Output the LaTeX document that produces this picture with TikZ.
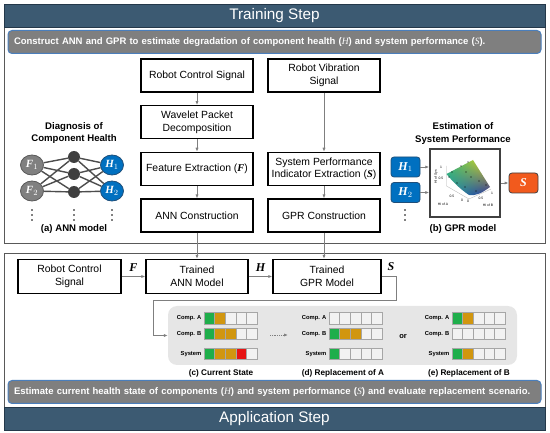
\documentclass[tikz,border=0pt]{standalone}
\usepackage{fontspec}
\setmainfont{Liberation Sans}
\newfontfamily\varfont{Liberation Serif}
\usetikzlibrary{positioning,shapes.geometric,arrows.meta,shadings}

\definecolor{barblue}{HTML}{3C5A72}
\definecolor{barline}{HTML}{24384A}
\definecolor{notegray}{HTML}{7F7F7F}
\definecolor{noteline}{HTML}{4A7EBB}
\definecolor{arrowgray}{HTML}{7F7F7F}
\definecolor{framegray}{HTML}{595959}
\definecolor{neurongray}{HTML}{808080}
\definecolor{neuronline}{HTML}{595959}
\definecolor{hiddengray}{HTML}{3F3F3F}
\definecolor{linkgray}{HTML}{4D4D4D}
\definecolor{hblue}{HTML}{0070C0}
\definecolor{hblueline}{HTML}{1F4E79}
\definecolor{sred}{HTML}{F25A1D}
\definecolor{sline}{HTML}{404040}
\definecolor{plotline}{HTML}{404040}
\definecolor{panelgray}{HTML}{E6E6E6}
\definecolor{cg}{HTML}{1FAE4B}
\definecolor{co}{HTML}{D1960F}
\definecolor{cr}{HTML}{E61414}
\definecolor{ce}{HTML}{F2F2F2}
\definecolor{cellline}{HTML}{A6A6A6}
\definecolor{surfyellow}{HTML}{E6D21E}
\definecolor{surfgreen}{HTML}{3DBA6E}
\definecolor{surfteal}{HTML}{1C9AA8}
\definecolor{surfblue}{HTML}{2B2F9E}
\definecolor{axisgray}{HTML}{B0B0B0}

\newcommand{\ivar}[1]{{\varfont\mdseries\itshape #1}}
\newcommand{\bvar}[1]{{\varfont\bfseries\itshape #1}}

% one row of health cells: name, x, y, label, fills
\newcommand{\healthrow}[5]{%
  \node (#1) [rowlabel] at (#2-2.5,#3) {#4};
  \foreach \hc [count=\i from 0] in {#5}
    \draw [cell,fill=\hc] (#2+\i*10.6,#3-5.8) rectangle ++(10.6,11.6);
}

\begin{document}
\begin{tikzpicture}[x=1pt,y=-1pt,>={Latex[length=4pt,width=3.2pt]},
    node distance=46.7pt,
    stepbar/.style={draw=barline,fill=barblue,text=white,line width=0.8pt,
      minimum width=541pt,minimum height=23pt,inner sep=0pt,
      font=\fontsize{15.3}{18}\selectfont},
    notebox/.style={draw=noteline,fill=notegray,text=white,line width=1pt,
      rounded corners=4pt,minimum width=533pt,minimum height=23pt,
      text width=525pt,align=left,inner xsep=4pt,
      font=\bfseries\fontsize{9.5}{11}\selectfont},
    block/.style={draw,line width=1.3pt,minimum width=112pt,minimum height=33pt,
      align=center,inner sep=1pt,font=\fontsize{10.4}{12.6}\selectfont},
    flow/.style={draw=arrowgray,line width=0.8pt,->},
    title/.style={align=center,inner sep=0.5pt,font=\bfseries\fontsize{9.6}{12.8}\selectfont},
    caption/.style={font=\bfseries\fontsize{8.2}{10}\selectfont},
    neuron/.style={ellipse,draw=neuronline,fill=neurongray,line width=0.8pt,
      minimum width=23pt,minimum height=20pt,inner sep=0pt,text=white,
      font=\fontsize{11}{12}\selectfont},
    hidden/.style={circle,fill=hiddengray,minimum size=12pt,inner sep=0pt},
    outneuron/.style={neuron,draw=hblueline,fill=hblue},
    tag/.style={draw=hblueline,fill=hblue,rounded corners=3pt,line width=0.8pt,
      minimum width=29pt,minimum height=20pt,inner sep=0pt,text=white,
      font=\fontsize{12}{13}\selectfont},
    link/.style={draw=linkgray,line width=1.4pt},
    lbl/.style={font=\fontsize{12}{13}\selectfont},
    rowlabel/.style={anchor=east,inner sep=0pt,font=\bfseries\fontsize{5.8}{7}\selectfont},
    cell/.style={draw=cellline,line width=0.6pt},
    tiny/.style={inner sep=0pt,font=\fontsize{3.4}{4}\selectfont},
    frame/.style={draw=framegray,line width=0.8pt}]

  \useasboundingbox (0,0) rectangle (550,433);

  % frames and step bars
  \draw [frame] (4,4) rectangle (545,243);
  \draw [frame] (4,253) rectangle (545,430);
  \node (train) [stepbar] at (274.5,15.5) {Training Step};
  \node (apply) [stepbar] at (274.5,418.5) {Application Step};
  \node (trainnote) [notebox] at (274.5,42)
    {\hspace{2pt}Construct ANN and GPR to estimate degradation of component health (\ivar{H}) and system performance (\ivar{S}).};
  \node (applynote) [notebox] at (274.5,392)
    {\hspace{2pt}Estimate current health state of components (\ivar{H}) and system performance (\ivar{S}) and evaluate replacement scenario.};

  % training flow
  \node (rcs)  [block] at (197,75.5) {Robot Control Signal};
  \node (wpd)  [block,below of=rcs] {Wavelet Packet\\Decomposition};
  \node (fe)   [block,below of=wpd] {Feature Extraction (\bvar{F})};
  \node (annc) [block,below of=fe] {ANN Construction};
  \node (rvs)  [block,right of=rcs,node distance=127pt] {Robot Vibration\\Signal};
  \node (spie) [block,right of=fe,node distance=127pt] {System Performance\\Indicator Extraction (\bvar{S})};
  \node (gprc) [block,right of=annc,node distance=127pt] {GPR Construction};

  \draw [flow] (rcs) -- (wpd);
  \draw [flow] (wpd) -- (fe);
  \draw [flow] (fe) -- (annc);
  \draw [flow] (rvs) -- (spie);
  \draw [flow] (spie) -- (gprc);

  % ANN model
  \node (diag) [title] at (74,133) {Diagnosis of\\Component Health};
  \node (f1) [neuron] at (32,165) {\bvar{F}$_1$};
  \node (f2) [neuron] at (32,191) {\bvar{F}$_2$};
  \node (n1) [hidden] at (74,157) {};
  \node (n2) [hidden] at (74,174) {};
  \node (n3) [hidden] at (74,192) {};
  \node (h1) [outneuron] at (112,165) {\bvar{H}$_1$};
  \node (h2) [outneuron] at (112,191) {\bvar{H}$_2$};
  \foreach \src in {f1,f2}
    \foreach \dst in {n1,n2,n3}
      \draw [link] (\src) -- (\dst);
  \foreach \src in {n1,n2,n3}
    \foreach \dst in {h1,h2}
      \draw [link] (\src) -- (\dst);
  % vertical dots under the layers and the inputs
  \foreach \dx in {32,74,112,405}
    \foreach \dy in {210,215,220}
      \fill (\dx,\dy) circle (0.85pt);
  \node (anncap) [title] at (74,229) {(a) ANN model};

  % GPR model
  \node (est) [title] at (463,133.5) {Estimation of\\System Performance};
  \node (gprplot) [draw=plotline,fill=white,line width=1.5pt,
    minimum width=70pt,minimum height=68pt] at (465,183) {};
  \draw [axisgray,line width=0.3pt] (446.5,166) -- (446.5,186) -- (469,199) -- (491,189);
  \shade [upper right=surfyellow,upper left=surfgreen,lower left=surfteal,lower right=surfblue]
    (446.5,174) -- (473,160) -- (490,187) .. controls (482,193) and (476,196) .. (469,195)
    .. controls (460,189) and (452,181) .. (446.5,174) -- cycle;
  \foreach \p in {(452,172),(461,166),(468,162),(466,172),(471,177),(479,181),
                  (486,185),(465,187),(457,183),(476,191),(449,177)}
    \fill \p circle (0.7pt);
  \node (zlab) [tiny,rotate=90] at (436,177) {HI of Sys};
  \node (alab) [tiny] at (443,204) {HI of A};
  \node (blab) [tiny] at (488,205) {HI of B};
  \node (t1) [tiny] at (441,167) {1};
  \node (t2) [tiny] at (441,178) {0.5};
  \node (t3) [tiny] at (452,196) {0.5};
  \node (t4) [tiny] at (462,200) {0};
  \node (t5) [tiny] at (468,201) {0};
  \node (t6) [tiny] at (481,198) {0.5};
  \node (t7) [tiny] at (492,193) {1};

  \node (hb1) [tag] at (405.5,167) {\bvar{H}$_1$};
  \node (hb2) [tag] at (405.5,192.5) {\bvar{H}$_2$};
  \node (sbox) [tag,draw=sline,fill=sred] at (523.5,183) {\bvar{S}};
  \draw [flow] (hb1) -- (hb1 -| gprplot.west);
  \draw [flow] (hb2) -- (hb2 -| gprplot.west);
  \draw [flow] (gprplot) -- (sbox);
  \node (gprcap) [title] at (463,229) {(b) GPR model};

  % application flow
  \node (rcs2) [block,minimum width=103pt,minimum height=34pt] at (69.5,276.5) {Robot Control\\Signal};
  \node (tann) [block,minimum width=102pt,minimum height=34pt] at (197,276.5) {Trained\\ANN Model};
  \node (tgpr) [block,minimum width=108pt,minimum height=34pt] at (327,276.5) {Trained\\GPR Model};
  \draw [flow] (annc) -- (tann);
  \draw [flow] (gprc) -- (gprc |- tgpr.north);
  \draw [flow] (rcs2) -- node [lbl,above=1pt] {\bvar{F}} (tann);
  \draw [flow] (tann) -- node [lbl,above=1pt] {\bvar{H}} (tgpr);

  \node (panel) [fill=panelgray,rounded corners=9pt,minimum width=349pt,
    minimum height=59pt] at (342.5,335.5) {};
  \coordinate (sturn) at (396,300);
  \coordinate (sleft) at (153,300);
  \draw [flow] (tgpr.east) -| (sturn) -- (sleft) |- (panel.west);
  \node (slbl) [lbl,anchor=south west] at ([xshift=2.5pt,yshift=2pt]tgpr.east) {\bvar{S}};

  % replacement scenarios
  \healthrow{cA}{204}{318.5}{Comp. A}{cg,co,ce,ce,ce}
  \healthrow{cB}{204}{334}{Comp. B}{cg,co,co,ce,ce}
  \healthrow{cS}{204}{354}{System}{cg,co,co,cr,ce}
  \healthrow{dA}{329}{318.5}{Comp. A}{ce,ce,ce,ce,ce}
  \healthrow{dB}{329}{334}{Comp. B}{cg,co,co,ce,ce}
  \healthrow{dS}{329}{354}{System}{cg,ce,ce,ce,ce}
  \healthrow{eA}{452}{318.5}{Comp. A}{cg,co,ce,ce,ce}
  \healthrow{eB}{452}{334}{Comp. B}{ce,ce,ce,ce,ce}
  \healthrow{eS}{452}{354}{System}{cg,co,ce,ce,ce}

  \coordinate (dotfrom) at (270,335);
  \coordinate (dotto) at (288,335);
  \draw [flow,densely dotted] (dotfrom) -- (dotto);
  \node (ortext) [font=\bfseries\fontsize{7.5}{9}\selectfont] at (403,337) {or};

  \node (capc) [caption] at (221,373) {(c) Current State};
  \node (capd) [caption] at (343,373) {(d) Replacement of A};
  \node (cape) [caption] at (469,373) {(e) Replacement of B};
\end{tikzpicture}
\end{document}
